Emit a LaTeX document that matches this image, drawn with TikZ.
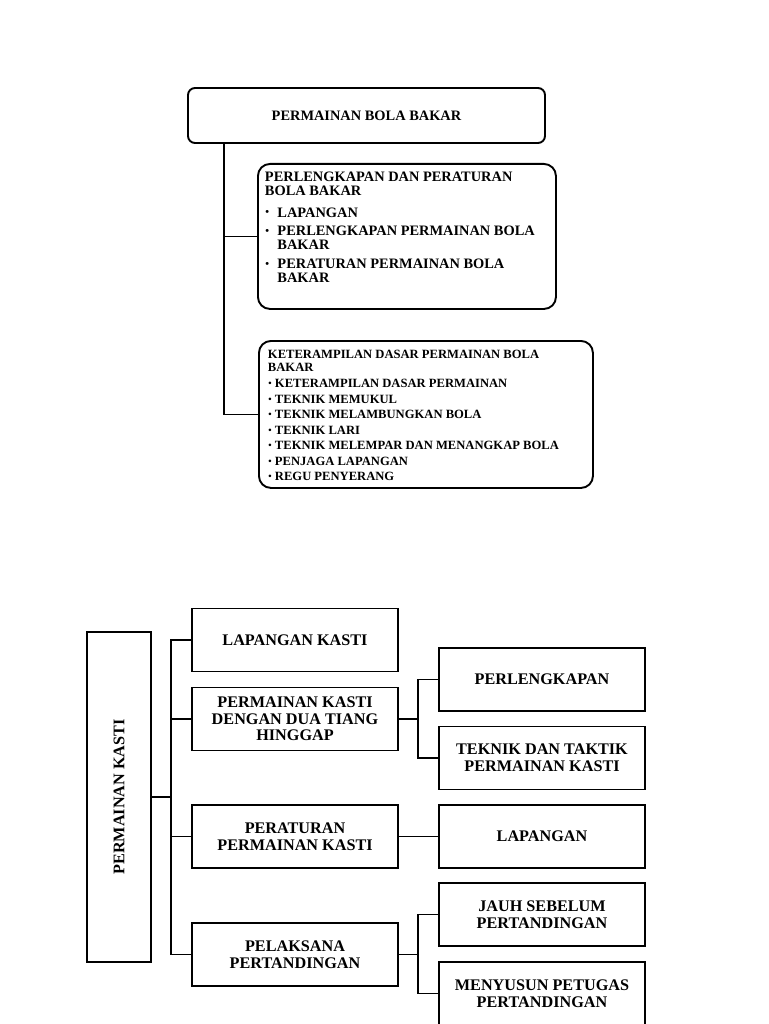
\documentclass[tikz,border=0pt]{standalone}
\usepackage{fontspec}
\setmainfont{Liberation Serif}
\usepackage{graphicx}
\usepackage{tikz}
\usetikzlibrary{calc}

\newcommand{\bdot}{\raisebox{0.1em}{\scalebox{0.75}{\textbullet}}}
\newcommand{\bitem}[2][12.5pt]{\par\hangindent=#1\hangafter=1\noindent\makebox[#1][l]{\hspace{0.5pt}\bdot}#2}

\begin{document}
\begin{tikzpicture}[x=1pt,y=-1pt,line width=1.9pt,
	rbox/.style={draw,rounded corners=#1,inner sep=0pt},
	kfont/.style={font=\bfseries\fontsize{16.2}{16.7}\selectfont},
	kbox/.style={draw,kfont,minimum width=206pt,minimum height=63pt,inner sep=2pt,align=center}]
		\useasboundingbox (0,0) rectangle (768,1024);
		\clip (0,0) rectangle (768,1024);
		%
		\node[rbox=7pt,minimum width=357pt,minimum height=55pt,font=\bfseries\fontsize{14.4}{14}\selectfont] (bola) at (366.5,115.5) {PERMAINAN BOLA BAKAR};
		\node[rbox=12pt,anchor=north west,inner xsep=7pt,inner ysep=8pt] (perl) at (257,163) {\parbox[t][129pt][t]{284pt}{\bfseries\fontsize{14.4}{13.8}\selectfont\setlength{\parskip}{5pt}%
			PERLENGKAPAN DAN PERATURAN\\BOLA BAKAR\par\vspace{3pt}%
			\bitem{LAPANGAN}
			\bitem{PERLENGKAPAN PERMAINAN BOLA\\BAKAR}
			\bitem{PERATURAN PERMAINAN BOLA\\BAKAR}}};
		\node[rbox=12pt,anchor=north west,inner xsep=9pt,inner ysep=9.5pt] (ketr) at (258,340) {\parbox[t][128pt][t]{316pt}{\bfseries\fontsize{12.6}{12.5}\selectfont\setlength{\parskip}{3pt}%
			KETERAMPILAN DASAR PERMAINAN BOLA\\BAKAR\par\vspace{1pt}%
			\bitem[7pt]{KETERAMPILAN DASAR PERMAINAN}
			\bitem[7pt]{TEKNIK MEMUKUL}
			\bitem[7pt]{TEKNIK MELAMBUNGKAN BOLA}
			\bitem[7pt]{TEKNIK LARI}
			\bitem[7pt]{TEKNIK MELEMPAR DAN MENANGKAP BOLA}
			\bitem[7pt]{PENJAGA LAPANGAN}
			\bitem[7pt]{REGU PENYERANG}}};
		\coordinate (trunk) at (224,0);
		%
		\draw (bola.south -| trunk) |- (ketr.west);
		\path (trunk |- perl.west) edge (perl.west);
		%
		\node[draw,kfont,minimum width=64pt,minimum height=330pt,inner sep=0pt] (kasti) at (119,797) {\rotatebox{90}{PERMAINAN KASTI}};
		\node[kbox] (lap) at (295,640) {LAPANGAN KASTI};
		\node[kbox] (dua) at (295,719) {PERMAINAN KASTI\\DENGAN DUA TIANG\\HINGGAP};
		\node[kbox] (atur) at (295,836.5) {PERATURAN\\PERMAINAN KASTI};
		\node[kbox] (laks) at (295,954.5) {PELAKSANA\\PERTANDINGAN};
		\node[kbox] (alat) at (542,679.5) {PERLENGKAPAN};
		\node[kbox] (tek) at (542,758) {TEKNIK DAN TAKTIK\\PERMAINAN KASTI};
		\node[kbox] (lapg) at (542,836.5) {LAPANGAN};
		\node[kbox] (jauh) at (542,914.5) {JAUH SEBELUM\\PERTANDINGAN};
		\node[kbox] (susun) at (542,993.5) {MENYUSUN PETUGAS\\PERTANDINGAN};
		\coordinate (kv) at (171,797);
		\coordinate (dv) at (418,719);
		\coordinate (lv) at (418,954.5);
		%
		\draw (lap.west) -| (kv) |- (laks.west);
		\draw (alat.west) -| (dv) |- (tek.west);
		\draw (jauh.west) -| (lv) |- (susun.west);
		\path
		(kasti.east) edge (kv)
		(kv |- dua.west) edge (dua.west)
		(kv |- atur.west) edge (atur.west)
		(dua.east) edge (dv)
		(atur.east) edge (lapg.west)
		(laks.east) edge (lv);
\end{tikzpicture}
\end{document}
